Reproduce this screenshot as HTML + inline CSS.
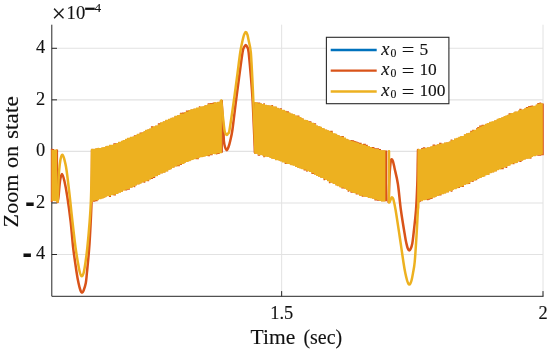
<!DOCTYPE html><html><head><meta charset="utf-8"><title>Zoom on state</title>
<style>html,body{margin:0;padding:0;background:#fff}svg{display:block}text{font-family:"Liberation Serif",serif;fill:#111;stroke:#111;stroke-width:0.12px}text.dj{font-family:"DejaVu Sans",sans-serif}text.ls{font-family:"Liberation Sans",sans-serif}</style></head><body>
<svg width="550" height="352" viewBox="0 0 550 352">
<rect width="550" height="352" fill="#fff"/>
<line x1="51.80" y1="48.30" x2="543.00" y2="48.30" stroke="#e2e2e2" stroke-width="1.1"/>
<line x1="51.80" y1="99.85" x2="543.00" y2="99.85" stroke="#e2e2e2" stroke-width="1.1"/>
<line x1="51.80" y1="151.40" x2="543.00" y2="151.40" stroke="#e2e2e2" stroke-width="1.1"/>
<line x1="51.80" y1="202.95" x2="543.00" y2="202.95" stroke="#e2e2e2" stroke-width="1.1"/>
<line x1="51.80" y1="254.50" x2="543.00" y2="254.50" stroke="#e2e2e2" stroke-width="1.1"/>
<line x1="281.65" y1="24.70" x2="281.65" y2="296.30" stroke="#e2e2e2" stroke-width="1.0"/>
<line x1="543.00" y1="24.70" x2="543.00" y2="296.30" stroke="#e2e2e2" stroke-width="1.0"/>
<path d="M51.80 24.70 V296.30 H543.50" fill="none" stroke="#262626" stroke-width="1.0"/>
<line x1="51.80" y1="48.30" x2="57.00" y2="48.30" stroke="#262626" stroke-width="1.0"/>
<line x1="51.80" y1="99.85" x2="57.00" y2="99.85" stroke="#262626" stroke-width="1.0"/>
<line x1="51.80" y1="151.40" x2="57.00" y2="151.40" stroke="#262626" stroke-width="1.0"/>
<line x1="51.80" y1="202.95" x2="57.00" y2="202.95" stroke="#262626" stroke-width="1.0"/>
<line x1="51.80" y1="254.50" x2="57.00" y2="254.50" stroke="#262626" stroke-width="1.0"/>
<line x1="281.65" y1="296.30" x2="281.65" y2="291.10" stroke="#262626" stroke-width="1.0"/>
<line x1="543.00" y1="296.30" x2="543.00" y2="291.10" stroke="#262626" stroke-width="1.0"/>
<g id="plot"><path d="M50.80 148.84 L52.50 148.84 L52.50 149.03 L54.08 149.03 L54.08 149.88 L56.15 149.88 L56.15 149.61 L58.10 149.61 L58.10 200.81 L56.15 200.81 L56.15 200.98 L54.08 200.98 L54.08 200.50 L52.50 200.50 L52.50 201.96 L50.80 201.96Z M91.30 149.92 L93.00 149.92 L93.00 149.10 L95.39 149.10 L95.39 148.54 L97.66 148.54 L97.66 148.05 L98.96 148.05 L98.96 148.39 L101.38 148.39 L101.38 147.63 L103.52 147.63 L103.52 147.42 L105.20 147.42 L105.20 146.44 L106.45 146.44 L106.45 146.14 L109.04 146.14 L109.04 145.04 L110.99 145.04 L110.99 144.93 L113.34 144.93 L113.34 143.13 L115.95 143.13 L115.95 143.24 L118.29 143.24 L118.29 142.09 L120.97 142.09 L120.97 140.93 L122.80 140.93 L122.80 140.34 L125.28 140.34 L125.28 139.06 L127.19 139.06 L127.19 138.06 L129.89 138.06 L129.89 137.14 L132.50 137.14 L132.50 136.81 L133.85 136.81 L133.85 135.15 L135.27 135.15 L135.27 135.36 L136.82 135.36 L136.82 134.10 L139.56 134.10 L139.56 132.43 L141.46 132.43 L141.46 132.57 L143.66 132.57 L143.66 131.30 L145.34 131.30 L145.34 130.03 L147.35 130.03 L147.35 129.44 L149.17 129.44 L149.17 128.82 L150.93 128.82 L150.93 126.32 L153.07 126.32 L153.07 126.66 L155.20 126.66 L155.20 125.74 L157.85 125.74 L157.85 123.36 L160.14 123.36 L160.14 122.66 L162.83 122.66 L162.83 121.56 L165.40 121.56 L165.40 120.11 L168.18 120.11 L168.18 119.12 L170.46 119.12 L170.46 118.17 L171.92 118.17 L171.92 117.86 L174.50 117.86 L174.50 116.08 L177.24 116.08 L177.24 115.24 L179.89 115.24 L179.89 112.77 L182.00 112.77 L182.00 112.59 L184.34 112.59 L184.34 112.36 L185.88 112.36 L185.88 110.58 L188.41 110.58 L188.41 110.35 L190.53 110.35 L190.53 109.51 L192.18 109.51 L192.18 109.55 L193.48 109.55 L193.48 108.70 L196.05 108.70 L196.05 107.91 L198.83 107.91 L198.83 106.26 L200.17 106.26 L200.17 106.76 L202.66 106.76 L202.66 106.53 L204.51 106.53 L204.51 105.40 L205.95 105.40 L205.95 105.51 L207.62 105.51 L207.62 103.19 L210.05 103.19 L210.05 103.02 L212.65 103.02 L212.65 102.55 L213.92 102.55 L213.92 102.56 L216.10 102.56 L216.10 102.76 L217.38 102.76 L217.38 102.11 L219.73 102.11 L219.73 100.36 L222.90 100.36 L222.90 152.84 L219.73 152.84 L219.73 154.08 L217.38 154.08 L217.38 154.53 L216.10 154.53 L216.10 153.99 L213.92 153.99 L213.92 153.81 L212.65 153.81 L212.65 155.27 L210.05 155.27 L210.05 156.28 L207.62 156.28 L207.62 155.65 L205.95 155.65 L205.95 156.11 L204.51 156.11 L204.51 156.46 L202.66 156.46 L202.66 157.01 L200.17 157.01 L200.17 157.35 L198.83 157.35 L198.83 159.27 L196.05 159.27 L196.05 158.86 L193.48 158.86 L193.48 159.59 L192.18 159.59 L192.18 159.97 L190.53 159.97 L190.53 161.00 L188.41 161.00 L188.41 161.70 L185.88 161.70 L185.88 162.43 L184.34 162.43 L184.34 163.61 L182.00 163.61 L182.00 164.98 L179.89 164.98 L179.89 166.32 L177.24 166.32 L177.24 166.31 L174.50 166.31 L174.50 167.38 L171.92 167.38 L171.92 169.02 L170.46 169.02 L170.46 169.43 L168.18 169.43 L168.18 171.21 L165.40 171.21 L165.40 172.57 L162.83 172.57 L162.83 173.31 L160.14 173.31 L160.14 174.74 L157.85 174.74 L157.85 176.01 L155.20 176.01 L155.20 177.96 L153.07 177.96 L153.07 179.02 L150.93 179.02 L150.93 179.21 L149.17 179.21 L149.17 181.30 L147.35 181.30 L147.35 181.06 L145.34 181.06 L145.34 182.64 L143.66 182.64 L143.66 182.29 L141.46 182.29 L141.46 183.33 L139.56 183.33 L139.56 184.30 L136.82 184.30 L136.82 185.16 L135.27 185.16 L135.27 187.18 L133.85 187.18 L133.85 186.39 L132.50 186.39 L132.50 187.39 L129.89 187.39 L129.89 189.78 L127.19 189.78 L127.19 190.60 L125.28 190.60 L125.28 190.25 L122.80 190.25 L122.80 191.66 L120.97 191.66 L120.97 192.37 L118.29 192.37 L118.29 193.74 L115.95 193.74 L115.95 195.52 L113.34 195.52 L113.34 194.96 L110.99 194.96 L110.99 196.94 L109.04 196.94 L109.04 196.03 L106.45 196.03 L106.45 196.91 L105.20 196.91 L105.20 197.57 L103.52 197.57 L103.52 198.27 L101.38 198.27 L101.38 198.84 L98.96 198.84 L98.96 199.86 L97.66 199.86 L97.66 201.20 L95.39 201.20 L95.39 201.68 L93.00 201.68 L93.00 201.84 L91.30 201.84Z M253.90 102.31 L255.60 102.31 L255.60 102.51 L257.70 102.51 L257.70 102.49 L260.23 102.49 L260.23 103.50 L261.81 103.50 L261.81 104.38 L263.30 104.38 L263.30 103.17 L264.90 103.17 L264.90 105.08 L267.09 105.08 L267.09 105.46 L269.49 105.46 L269.49 105.76 L271.32 105.76 L271.32 104.93 L273.11 104.93 L273.11 106.71 L274.95 106.71 L274.95 106.70 L276.71 106.70 L276.71 108.04 L278.58 108.04 L278.58 108.77 L279.91 108.77 L279.91 108.22 L281.91 108.22 L281.91 110.12 L284.67 110.12 L284.67 110.97 L286.53 110.97 L286.53 111.33 L288.92 111.33 L288.92 112.68 L290.38 112.68 L290.38 113.84 L292.68 113.84 L292.68 114.53 L295.09 114.53 L295.09 115.85 L297.37 115.85 L297.37 115.49 L299.40 115.49 L299.40 117.38 L301.37 117.38 L301.37 118.47 L303.60 118.47 L303.60 119.99 L306.24 119.99 L306.24 120.33 L307.68 120.33 L307.68 121.05 L309.03 121.05 L309.03 121.26 L311.43 121.26 L311.43 123.13 L314.09 123.13 L314.09 123.13 L316.12 123.13 L316.12 125.75 L318.03 125.75 L318.03 126.49 L320.38 126.49 L320.38 127.16 L321.88 127.16 L321.88 128.25 L323.51 128.25 L323.51 128.79 L325.03 128.79 L325.03 129.69 L327.16 129.69 L327.16 130.49 L328.87 130.49 L328.87 130.97 L330.44 130.97 L330.44 130.87 L332.74 130.87 L332.74 133.63 L335.47 133.63 L335.47 133.95 L337.14 133.95 L337.14 135.34 L339.47 135.34 L339.47 136.46 L341.33 136.46 L341.33 135.93 L343.90 135.93 L343.90 137.90 L346.03 137.90 L346.03 139.03 L347.66 139.03 L347.66 139.68 L349.21 139.68 L349.21 140.67 L350.45 140.67 L350.45 139.93 L352.41 139.93 L352.41 140.37 L354.23 140.37 L354.23 140.88 L355.70 140.88 L355.70 141.38 L357.48 141.38 L357.48 142.21 L359.19 142.21 L359.19 142.81 L361.63 142.81 L361.63 144.58 L363.06 144.58 L363.06 143.85 L365.85 143.85 L365.85 144.83 L367.82 144.83 L367.82 146.58 L369.97 146.58 L369.97 147.26 L371.92 147.26 L371.92 147.11 L374.46 147.11 L374.46 148.21 L376.97 148.21 L376.97 148.17 L379.06 148.17 L379.06 149.06 L381.03 149.06 L381.03 150.50 L383.39 150.50 L383.39 150.58 L387.30 150.58 L387.30 201.30 L383.39 201.30 L383.39 201.19 L381.03 201.19 L381.03 200.75 L379.06 200.75 L379.06 200.77 L376.97 200.77 L376.97 200.53 L374.46 200.53 L374.46 198.53 L371.92 198.53 L371.92 197.88 L369.97 197.88 L369.97 197.81 L367.82 197.81 L367.82 196.73 L365.85 196.73 L365.85 196.41 L363.06 196.41 L363.06 196.65 L361.63 196.65 L361.63 195.58 L359.19 195.58 L359.19 194.21 L357.48 194.21 L357.48 194.57 L355.70 194.57 L355.70 192.87 L354.23 192.87 L354.23 192.63 L352.41 192.63 L352.41 192.80 L350.45 192.80 L350.45 191.06 L349.21 191.06 L349.21 191.64 L347.66 191.64 L347.66 189.51 L346.03 189.51 L346.03 188.48 L343.90 188.48 L343.90 188.56 L341.33 188.56 L341.33 187.08 L339.47 187.08 L339.47 186.02 L337.14 186.02 L337.14 185.20 L335.47 185.20 L335.47 183.74 L332.74 183.74 L332.74 182.51 L330.44 182.51 L330.44 183.21 L328.87 183.21 L328.87 181.01 L327.16 181.01 L327.16 179.56 L325.03 179.56 L325.03 180.16 L323.51 180.16 L323.51 177.75 L321.88 177.75 L321.88 177.65 L320.38 177.65 L320.38 176.45 L318.03 176.45 L318.03 175.59 L316.12 175.59 L316.12 174.42 L314.09 174.42 L314.09 174.12 L311.43 174.12 L311.43 171.70 L309.03 171.70 L309.03 170.84 L307.68 170.84 L307.68 171.79 L306.24 171.79 L306.24 170.50 L303.60 170.50 L303.60 168.84 L301.37 168.84 L301.37 168.27 L299.40 168.27 L299.40 167.64 L297.37 167.64 L297.37 166.76 L295.09 166.76 L295.09 165.35 L292.68 165.35 L292.68 164.99 L290.38 164.99 L290.38 164.05 L288.92 164.05 L288.92 163.63 L286.53 163.63 L286.53 164.01 L284.67 164.01 L284.67 162.09 L281.91 162.09 L281.91 161.12 L279.91 161.12 L279.91 160.38 L278.58 160.38 L278.58 159.91 L276.71 159.91 L276.71 159.90 L274.95 159.90 L274.95 158.65 L273.11 158.65 L273.11 158.45 L271.32 158.45 L271.32 157.62 L269.49 157.62 L269.49 156.79 L267.09 156.79 L267.09 156.33 L264.90 156.33 L264.90 157.26 L263.30 157.26 L263.30 155.24 L261.81 155.24 L261.81 154.71 L260.23 154.71 L260.23 155.79 L257.70 155.79 L257.70 153.41 L255.60 153.41 L255.60 153.35 L253.90 153.35Z M418.10 150.35 L419.80 150.35 L419.80 149.64 L421.14 149.64 L421.14 147.91 L422.81 147.91 L422.81 147.33 L425.37 147.33 L425.37 148.33 L426.75 148.33 L426.75 147.62 L428.58 147.62 L428.58 147.50 L430.31 147.50 L430.31 146.65 L432.60 146.65 L432.60 144.59 L435.29 144.59 L435.29 145.45 L436.76 145.45 L436.76 144.48 L439.15 144.48 L439.15 142.86 L441.52 142.86 L441.52 143.75 L444.06 143.75 L444.06 142.85 L446.15 142.85 L446.15 142.47 L448.82 142.47 L448.82 141.71 L450.60 141.71 L450.60 139.43 L452.47 139.43 L452.47 140.21 L454.03 140.21 L454.03 138.79 L456.48 138.79 L456.48 138.11 L458.45 138.11 L458.45 137.14 L460.08 137.14 L460.08 136.53 L461.55 136.53 L461.55 136.29 L463.91 136.29 L463.91 134.60 L466.07 134.60 L466.07 133.52 L468.41 133.52 L468.41 132.93 L470.23 132.93 L470.23 130.77 L472.21 130.77 L472.21 129.69 L473.66 129.69 L473.66 130.09 L475.99 130.09 L475.99 128.23 L477.23 128.23 L477.23 126.97 L479.18 126.97 L479.18 125.60 L481.59 125.60 L481.59 124.71 L483.87 124.71 L483.87 125.13 L485.23 125.13 L485.23 124.08 L486.81 124.08 L486.81 123.38 L489.36 123.38 L489.36 122.07 L491.59 122.07 L491.59 121.66 L494.19 121.66 L494.19 120.48 L496.79 120.48 L496.79 118.98 L498.71 118.98 L498.71 118.32 L501.34 118.32 L501.34 117.47 L503.72 117.47 L503.72 116.19 L505.45 116.19 L505.45 115.87 L507.24 115.87 L507.24 114.99 L508.56 114.99 L508.56 113.29 L510.40 113.29 L510.40 113.18 L513.13 113.18 L513.13 112.68 L514.49 112.68 L514.49 111.87 L516.60 111.87 L516.60 111.76 L517.98 111.76 L517.98 110.74 L519.31 110.74 L519.31 108.82 L521.55 108.82 L521.55 109.70 L523.13 109.70 L523.13 109.46 L524.41 109.46 L524.41 108.38 L525.86 108.38 L525.86 107.01 L528.09 107.01 L528.09 105.93 L530.22 105.93 L530.22 105.81 L531.44 105.81 L531.44 105.41 L533.01 105.41 L533.01 105.93 L535.76 105.93 L535.76 104.79 L537.31 104.79 L537.31 102.96 L539.41 102.96 L539.41 102.39 L541.28 102.39 L541.28 103.50 L543.80 103.50 L543.80 155.30 L541.28 155.30 L541.28 155.76 L539.41 155.76 L539.41 155.73 L537.31 155.73 L537.31 155.17 L535.76 155.17 L535.76 155.85 L533.01 155.85 L533.01 156.70 L531.44 156.70 L531.44 158.72 L530.22 158.72 L530.22 158.36 L528.09 158.36 L528.09 158.38 L525.86 158.38 L525.86 159.19 L524.41 159.19 L524.41 159.44 L523.13 159.44 L523.13 160.54 L521.55 160.54 L521.55 161.92 L519.31 161.92 L519.31 161.29 L517.98 161.29 L517.98 162.44 L516.60 162.44 L516.60 162.93 L514.49 162.93 L514.49 164.14 L513.13 164.14 L513.13 164.01 L510.40 164.01 L510.40 165.35 L508.56 165.35 L508.56 165.74 L507.24 165.74 L507.24 167.90 L505.45 167.90 L505.45 167.18 L503.72 167.18 L503.72 169.18 L501.34 169.18 L501.34 169.10 L498.71 169.10 L498.71 169.92 L496.79 169.92 L496.79 171.27 L494.19 171.27 L494.19 172.30 L491.59 172.30 L491.59 172.99 L489.36 172.99 L489.36 174.72 L486.81 174.72 L486.81 175.05 L485.23 175.05 L485.23 176.14 L483.87 176.14 L483.87 176.60 L481.59 176.60 L481.59 177.67 L479.18 177.67 L479.18 178.65 L477.23 178.65 L477.23 180.25 L475.99 180.25 L475.99 180.25 L473.66 180.25 L473.66 181.97 L472.21 181.97 L472.21 181.43 L470.23 181.43 L470.23 184.08 L468.41 184.08 L468.41 183.87 L466.07 183.87 L466.07 184.52 L463.91 184.52 L463.91 187.00 L461.55 187.00 L461.55 186.59 L460.08 186.59 L460.08 188.03 L458.45 188.03 L458.45 188.03 L456.48 188.03 L456.48 188.99 L454.03 188.99 L454.03 189.43 L452.47 189.43 L452.47 191.80 L450.60 191.80 L450.60 190.94 L448.82 190.94 L448.82 192.24 L446.15 192.24 L446.15 193.22 L444.06 193.22 L444.06 193.97 L441.52 193.97 L441.52 195.57 L439.15 195.57 L439.15 195.59 L436.76 195.59 L436.76 196.43 L435.29 196.43 L435.29 197.17 L432.60 197.17 L432.60 198.98 L430.31 198.98 L430.31 199.64 L428.58 199.64 L428.58 200.13 L426.75 200.13 L426.75 199.45 L425.37 199.45 L425.37 199.83 L422.81 199.83 L422.81 200.83 L421.14 200.83 L421.14 201.64 L419.80 201.64 L419.80 202.56 L418.10 202.56Z" fill="#D95319"/>
<path d="M57.60 202.00 C57.77 201.00 58.20 199.50 58.60 196.00 C59.00 192.50 59.43 184.67 60.00 181.00 C60.57 177.33 61.27 174.00 62.00 174.00 C62.73 174.00 63.53 177.33 64.40 181.00 C65.27 184.67 66.15 189.17 67.20 196.00 C68.25 202.83 69.70 213.33 70.70 222.00 C71.70 230.67 72.20 239.50 73.20 248.00 C74.20 256.50 75.82 267.17 76.70 273.00 C77.58 278.83 77.87 280.08 78.50 283.00 C79.13 285.92 79.92 288.87 80.50 290.50 C81.08 292.13 81.48 292.80 82.00 292.80 C82.52 292.80 82.97 292.13 83.60 290.50 C84.23 288.87 85.25 285.92 85.80 283.00 C86.35 280.08 86.33 278.83 86.90 273.00 C87.47 267.17 88.57 256.50 89.20 248.00 C89.83 239.50 90.32 229.50 90.70 222.00 C91.08 214.50 91.30 210.00 91.50 203.00 C91.70 196.00 91.80 188.83 91.90 180.00 C92.00 171.17 92.07 155.00 92.10 150.00" fill="none" stroke="#D95319" stroke-width="2.5" stroke-linejoin="round" stroke-linecap="round"/>
<path d="M221.60 101.00 C221.90 105.83 223.02 123.33 223.40 130.00 C223.78 136.67 223.63 138.17 223.90 141.00 C224.17 143.83 224.53 145.47 225.00 147.00 C225.47 148.53 226.12 150.15 226.70 150.15 C227.28 150.15 227.92 148.53 228.50 147.00 C229.08 145.47 229.55 143.83 230.20 141.00 C230.85 138.17 231.50 136.17 232.40 130.00 C233.30 123.83 234.50 112.67 235.60 104.00 C236.70 95.33 237.83 86.67 239.00 78.00 C240.17 69.33 241.72 57.20 242.60 52.00 C243.48 46.80 243.78 47.97 244.30 46.80 C244.82 45.63 245.23 45.00 245.70 45.00 C246.17 45.00 246.62 45.63 247.10 46.80 C247.58 47.97 247.95 46.80 248.60 52.00 C249.25 57.20 250.33 70.00 251.00 78.00 C251.67 86.00 252.13 92.00 252.60 100.00 C253.07 108.00 253.40 117.25 253.80 126.00 C254.20 134.75 254.80 148.08 255.00 152.50" fill="none" stroke="#D95319" stroke-width="2.5" stroke-linejoin="round" stroke-linecap="round"/>
<path d="M388.60 202.00 C388.77 197.50 389.25 181.75 389.60 175.00 C389.95 168.25 390.33 164.13 390.70 161.50 C391.07 158.87 391.43 159.28 391.80 159.20 C392.17 159.12 392.45 159.53 392.90 161.00 C393.35 162.47 393.67 164.17 394.50 168.00 C395.33 171.83 396.83 177.00 397.90 184.00 C398.97 191.00 399.72 201.33 400.90 210.00 C402.08 218.67 404.08 230.43 405.00 236.00 C405.92 241.57 405.93 241.32 406.40 243.40 C406.87 245.48 407.32 247.30 407.80 248.50 C408.28 249.70 408.80 250.60 409.30 250.60 C409.80 250.60 410.30 249.70 410.80 248.50 C411.30 247.30 411.88 245.48 412.30 243.40 C412.72 241.32 412.68 241.57 413.30 236.00 C413.92 230.43 415.33 218.67 416.00 210.00 C416.67 201.33 417.00 192.33 417.30 184.00 C417.60 175.67 417.68 165.67 417.80 160.00 C417.92 154.33 417.97 151.67 418.00 150.00" fill="none" stroke="#D95319" stroke-width="2.5" stroke-linejoin="round" stroke-linecap="round"/>
<path d="M51.50 149.69 L52.50 149.69 L52.50 149.88 L54.08 149.88 L54.08 149.58 L56.15 149.58 L56.15 149.31 L57.10 149.31 L57.10 201.11 L56.15 201.11 L56.15 201.28 L54.08 201.28 L54.08 200.80 L52.50 200.80 L52.50 201.11 L51.50 201.11Z M92.00 149.62 L93.00 149.62 L93.00 148.80 L95.39 148.80 L95.39 148.24 L97.66 148.24 L97.66 147.75 L98.96 147.75 L98.96 148.09 L101.38 148.09 L101.38 147.33 L103.52 147.33 L103.52 147.12 L105.20 147.12 L105.20 146.14 L106.45 146.14 L106.45 145.84 L109.04 145.84 L109.04 144.74 L110.99 144.74 L110.99 144.63 L113.34 144.63 L113.34 143.98 L115.95 143.98 L115.95 142.94 L118.29 142.94 L118.29 141.79 L120.97 141.79 L120.97 140.63 L122.80 140.63 L122.80 140.04 L125.28 140.04 L125.28 138.76 L127.19 138.76 L127.19 137.76 L129.89 137.76 L129.89 136.84 L132.50 136.84 L132.50 136.51 L133.85 136.51 L133.85 136.00 L135.27 136.00 L135.27 135.06 L136.82 135.06 L136.82 133.80 L139.56 133.80 L139.56 133.28 L141.46 133.28 L141.46 132.27 L143.66 132.27 L143.66 131.00 L145.34 131.00 L145.34 129.73 L147.35 129.73 L147.35 129.14 L149.17 129.14 L149.17 128.52 L150.93 128.52 L150.93 127.17 L153.07 127.17 L153.07 126.36 L155.20 126.36 L155.20 125.44 L157.85 125.44 L157.85 124.21 L160.14 124.21 L160.14 122.36 L162.83 122.36 L162.83 121.26 L165.40 121.26 L165.40 119.81 L168.18 119.81 L168.18 118.82 L170.46 118.82 L170.46 117.87 L171.92 117.87 L171.92 117.56 L174.50 117.56 L174.50 115.78 L177.24 115.78 L177.24 114.94 L179.89 114.94 L179.89 113.62 L182.00 113.62 L182.00 113.44 L184.34 113.44 L184.34 112.06 L185.88 112.06 L185.88 111.43 L188.41 111.43 L188.41 110.05 L190.53 110.05 L190.53 109.21 L192.18 109.21 L192.18 109.25 L193.48 109.25 L193.48 108.40 L196.05 108.40 L196.05 107.61 L198.83 107.61 L198.83 107.11 L200.17 107.11 L200.17 106.46 L202.66 106.46 L202.66 106.23 L204.51 106.23 L204.51 105.10 L205.95 105.10 L205.95 105.21 L207.62 105.21 L207.62 104.04 L210.05 104.04 L210.05 103.87 L212.65 103.87 L212.65 103.40 L213.92 103.40 L213.92 102.26 L216.10 102.26 L216.10 102.46 L217.38 102.46 L217.38 101.81 L219.73 101.81 L219.73 101.21 L221.90 101.21 L221.90 153.14 L219.73 153.14 L219.73 153.23 L217.38 153.23 L217.38 153.68 L216.10 153.68 L216.10 154.29 L213.92 154.29 L213.92 154.11 L212.65 154.11 L212.65 154.42 L210.05 154.42 L210.05 155.43 L207.62 155.43 L207.62 155.95 L205.95 155.95 L205.95 156.41 L204.51 156.41 L204.51 156.76 L202.66 156.76 L202.66 157.31 L200.17 157.31 L200.17 157.65 L198.83 157.65 L198.83 158.42 L196.05 158.42 L196.05 159.16 L193.48 159.16 L193.48 159.89 L192.18 159.89 L192.18 160.27 L190.53 160.27 L190.53 161.30 L188.41 161.30 L188.41 162.00 L185.88 162.00 L185.88 162.73 L184.34 162.73 L184.34 163.91 L182.00 163.91 L182.00 164.13 L179.89 164.13 L179.89 165.47 L177.24 165.47 L177.24 166.61 L174.50 166.61 L174.50 167.68 L171.92 167.68 L171.92 169.32 L170.46 169.32 L170.46 169.73 L168.18 169.73 L168.18 171.51 L165.40 171.51 L165.40 172.87 L162.83 172.87 L162.83 173.61 L160.14 173.61 L160.14 175.04 L157.85 175.04 L157.85 176.31 L155.20 176.31 L155.20 177.11 L153.07 177.11 L153.07 178.17 L150.93 178.17 L150.93 179.51 L149.17 179.51 L149.17 180.45 L147.35 180.45 L147.35 181.36 L145.34 181.36 L145.34 181.79 L143.66 181.79 L143.66 182.59 L141.46 182.59 L141.46 183.63 L139.56 183.63 L139.56 184.60 L136.82 184.60 L136.82 185.46 L135.27 185.46 L135.27 186.33 L133.85 186.33 L133.85 186.69 L132.50 186.69 L132.50 187.69 L129.89 187.69 L129.89 188.93 L127.19 188.93 L127.19 189.75 L125.28 189.75 L125.28 190.55 L122.80 190.55 L122.80 191.96 L120.97 191.96 L120.97 192.67 L118.29 192.67 L118.29 194.04 L115.95 194.04 L115.95 194.67 L113.34 194.67 L113.34 195.26 L110.99 195.26 L110.99 196.09 L109.04 196.09 L109.04 196.33 L106.45 196.33 L106.45 197.21 L105.20 197.21 L105.20 197.87 L103.52 197.87 L103.52 198.57 L101.38 198.57 L101.38 199.14 L98.96 199.14 L98.96 200.16 L97.66 200.16 L97.66 200.35 L95.39 200.35 L95.39 200.83 L93.00 200.83 L93.00 202.14 L92.00 202.14Z M254.60 102.01 L255.60 102.01 L255.60 102.21 L257.70 102.21 L257.70 103.34 L260.23 103.34 L260.23 103.20 L261.81 103.20 L261.81 104.08 L263.30 104.08 L263.30 104.02 L264.90 104.02 L264.90 104.78 L267.09 104.78 L267.09 105.16 L269.49 105.16 L269.49 105.46 L271.32 105.46 L271.32 105.78 L273.11 105.78 L273.11 106.41 L274.95 106.41 L274.95 106.40 L276.71 106.40 L276.71 107.74 L278.58 107.74 L278.58 108.47 L279.91 108.47 L279.91 109.07 L281.91 109.07 L281.91 109.82 L284.67 109.82 L284.67 110.67 L286.53 110.67 L286.53 112.18 L288.92 112.18 L288.92 112.38 L290.38 112.38 L290.38 113.54 L292.68 113.54 L292.68 114.23 L295.09 114.23 L295.09 115.55 L297.37 115.55 L297.37 116.34 L299.40 116.34 L299.40 117.08 L301.37 117.08 L301.37 118.17 L303.60 118.17 L303.60 119.69 L306.24 119.69 L306.24 120.03 L307.68 120.03 L307.68 120.75 L309.03 120.75 L309.03 122.11 L311.43 122.11 L311.43 122.83 L314.09 122.83 L314.09 123.98 L316.12 123.98 L316.12 125.45 L318.03 125.45 L318.03 126.19 L320.38 126.19 L320.38 126.86 L321.88 126.86 L321.88 127.95 L323.51 127.95 L323.51 128.49 L325.03 128.49 L325.03 129.39 L327.16 129.39 L327.16 130.19 L328.87 130.19 L328.87 130.67 L330.44 130.67 L330.44 131.72 L332.74 131.72 L332.74 133.33 L335.47 133.33 L335.47 133.65 L337.14 133.65 L337.14 135.04 L339.47 135.04 L339.47 136.16 L341.33 136.16 L341.33 136.78 L343.90 136.78 L343.90 137.60 L346.03 137.60 L346.03 138.73 L347.66 138.73 L347.66 139.38 L349.21 139.38 L349.21 140.37 L350.45 140.37 L350.45 140.78 L352.41 140.78 L352.41 141.22 L354.23 141.22 L354.23 141.73 L355.70 141.73 L355.70 142.23 L357.48 142.23 L357.48 143.06 L359.19 143.06 L359.19 143.66 L361.63 143.66 L361.63 144.28 L363.06 144.28 L363.06 144.70 L365.85 144.70 L365.85 145.68 L367.82 145.68 L367.82 146.28 L369.97 146.28 L369.97 146.96 L371.92 146.96 L371.92 147.96 L374.46 147.96 L374.46 149.06 L376.97 149.06 L376.97 149.02 L379.06 149.02 L379.06 149.91 L381.03 149.91 L381.03 150.20 L383.39 150.20 L383.39 150.28 L385.40 150.28 L385.40 201.60 L383.39 201.60 L383.39 201.49 L381.03 201.49 L381.03 201.05 L379.06 201.05 L379.06 199.92 L376.97 199.92 L376.97 199.68 L374.46 199.68 L374.46 198.83 L371.92 198.83 L371.92 198.18 L369.97 198.18 L369.97 198.11 L367.82 198.11 L367.82 197.03 L365.85 197.03 L365.85 196.71 L363.06 196.71 L363.06 195.80 L361.63 195.80 L361.63 195.88 L359.19 195.88 L359.19 194.51 L357.48 194.51 L357.48 193.72 L355.70 193.72 L355.70 193.17 L354.23 193.17 L354.23 192.93 L352.41 192.93 L352.41 191.95 L350.45 191.95 L350.45 191.36 L349.21 191.36 L349.21 190.79 L347.66 190.79 L347.66 189.81 L346.03 189.81 L346.03 188.78 L343.90 188.78 L343.90 187.71 L341.33 187.71 L341.33 187.38 L339.47 187.38 L339.47 186.32 L337.14 186.32 L337.14 185.50 L335.47 185.50 L335.47 184.04 L332.74 184.04 L332.74 182.81 L330.44 182.81 L330.44 182.36 L328.87 182.36 L328.87 181.31 L327.16 181.31 L327.16 179.86 L325.03 179.86 L325.03 179.31 L323.51 179.31 L323.51 178.05 L321.88 178.05 L321.88 177.95 L320.38 177.95 L320.38 176.75 L318.03 176.75 L318.03 175.89 L316.12 175.89 L316.12 174.72 L314.09 174.72 L314.09 173.27 L311.43 173.27 L311.43 172.00 L309.03 172.00 L309.03 171.14 L307.68 171.14 L307.68 170.94 L306.24 170.94 L306.24 169.65 L303.60 169.65 L303.60 169.14 L301.37 169.14 L301.37 168.57 L299.40 168.57 L299.40 167.94 L297.37 167.94 L297.37 167.06 L295.09 167.06 L295.09 165.65 L292.68 165.65 L292.68 165.29 L290.38 165.29 L290.38 164.35 L288.92 164.35 L288.92 163.93 L286.53 163.93 L286.53 163.16 L284.67 163.16 L284.67 162.39 L281.91 162.39 L281.91 161.42 L279.91 161.42 L279.91 160.68 L278.58 160.68 L278.58 160.21 L276.71 160.21 L276.71 160.20 L274.95 160.20 L274.95 158.95 L273.11 158.95 L273.11 158.75 L271.32 158.75 L271.32 157.92 L269.49 157.92 L269.49 157.09 L267.09 157.09 L267.09 156.63 L264.90 156.63 L264.90 156.41 L263.30 156.41 L263.30 155.54 L261.81 155.54 L261.81 155.01 L260.23 155.01 L260.23 154.94 L257.70 154.94 L257.70 153.71 L255.60 153.71 L255.60 153.65 L254.60 153.65Z M418.80 150.05 L419.80 150.05 L419.80 149.34 L421.14 149.34 L421.14 148.76 L422.81 148.76 L422.81 148.18 L425.37 148.18 L425.37 148.03 L426.75 148.03 L426.75 147.32 L428.58 147.32 L428.58 147.20 L430.31 147.20 L430.31 146.35 L432.60 146.35 L432.60 145.44 L435.29 145.44 L435.29 145.15 L436.76 145.15 L436.76 144.18 L439.15 144.18 L439.15 143.71 L441.52 143.71 L441.52 143.45 L444.06 143.45 L444.06 142.55 L446.15 142.55 L446.15 142.17 L448.82 142.17 L448.82 141.41 L450.60 141.41 L450.60 140.28 L452.47 140.28 L452.47 139.91 L454.03 139.91 L454.03 138.49 L456.48 138.49 L456.48 137.81 L458.45 137.81 L458.45 136.84 L460.08 136.84 L460.08 136.23 L461.55 136.23 L461.55 135.99 L463.91 135.99 L463.91 134.30 L466.07 134.30 L466.07 133.22 L468.41 133.22 L468.41 132.63 L470.23 132.63 L470.23 131.62 L472.21 131.62 L472.21 130.54 L473.66 130.54 L473.66 129.79 L475.99 129.79 L475.99 129.08 L477.23 129.08 L477.23 127.82 L479.18 127.82 L479.18 126.45 L481.59 126.45 L481.59 125.56 L483.87 125.56 L483.87 124.83 L485.23 124.83 L485.23 123.78 L486.81 123.78 L486.81 123.08 L489.36 123.08 L489.36 121.77 L491.59 121.77 L491.59 121.36 L494.19 121.36 L494.19 120.18 L496.79 120.18 L496.79 118.68 L498.71 118.68 L498.71 118.02 L501.34 118.02 L501.34 117.17 L503.72 117.17 L503.72 115.89 L505.45 115.89 L505.45 115.57 L507.24 115.57 L507.24 114.69 L508.56 114.69 L508.56 114.14 L510.40 114.14 L510.40 112.88 L513.13 112.88 L513.13 112.38 L514.49 112.38 L514.49 111.57 L516.60 111.57 L516.60 111.46 L517.98 111.46 L517.98 110.44 L519.31 110.44 L519.31 109.67 L521.55 109.67 L521.55 109.40 L523.13 109.40 L523.13 109.16 L524.41 109.16 L524.41 108.08 L525.86 108.08 L525.86 107.86 L528.09 107.86 L528.09 106.78 L530.22 106.78 L530.22 106.66 L531.44 106.66 L531.44 106.26 L533.01 106.26 L533.01 105.63 L535.76 105.63 L535.76 104.49 L537.31 104.49 L537.31 103.81 L539.41 103.81 L539.41 103.24 L541.28 103.24 L541.28 103.20 L542.80 103.20 L542.80 154.45 L541.28 154.45 L541.28 154.91 L539.41 154.91 L539.41 154.88 L537.31 154.88 L537.31 155.47 L535.76 155.47 L535.76 156.15 L533.01 156.15 L533.01 157.00 L531.44 157.00 L531.44 157.87 L530.22 157.87 L530.22 158.66 L528.09 158.66 L528.09 158.68 L525.86 158.68 L525.86 159.49 L524.41 159.49 L524.41 159.74 L523.13 159.74 L523.13 160.84 L521.55 160.84 L521.55 161.07 L519.31 161.07 L519.31 161.59 L517.98 161.59 L517.98 162.74 L516.60 162.74 L516.60 163.23 L514.49 163.23 L514.49 163.29 L513.13 163.29 L513.13 164.31 L510.40 164.31 L510.40 165.65 L508.56 165.65 L508.56 166.04 L507.24 166.04 L507.24 167.05 L505.45 167.05 L505.45 167.48 L503.72 167.48 L503.72 168.33 L501.34 168.33 L501.34 169.40 L498.71 169.40 L498.71 170.22 L496.79 170.22 L496.79 171.57 L494.19 171.57 L494.19 172.60 L491.59 172.60 L491.59 173.29 L489.36 173.29 L489.36 175.02 L486.81 175.02 L486.81 175.35 L485.23 175.35 L485.23 176.44 L483.87 176.44 L483.87 176.90 L481.59 176.90 L481.59 177.97 L479.18 177.97 L479.18 178.95 L477.23 178.95 L477.23 179.40 L475.99 179.40 L475.99 180.55 L473.66 180.55 L473.66 181.12 L472.21 181.12 L472.21 181.73 L470.23 181.73 L470.23 183.23 L468.41 183.23 L468.41 184.17 L466.07 184.17 L466.07 184.82 L463.91 184.82 L463.91 186.15 L461.55 186.15 L461.55 186.89 L460.08 186.89 L460.08 187.18 L458.45 187.18 L458.45 188.33 L456.48 188.33 L456.48 189.29 L454.03 189.29 L454.03 189.73 L452.47 189.73 L452.47 190.95 L450.60 190.95 L450.60 191.24 L448.82 191.24 L448.82 192.54 L446.15 192.54 L446.15 193.52 L444.06 193.52 L444.06 194.27 L441.52 194.27 L441.52 194.72 L439.15 194.72 L439.15 195.89 L436.76 195.89 L436.76 196.73 L435.29 196.73 L435.29 197.47 L432.60 197.47 L432.60 198.13 L430.31 198.13 L430.31 198.79 L428.58 198.79 L428.58 199.28 L426.75 199.28 L426.75 199.75 L425.37 199.75 L425.37 200.13 L422.81 200.13 L422.81 201.13 L421.14 201.13 L421.14 200.79 L419.80 200.79 L419.80 201.71 L418.80 201.71Z" fill="#EDB120"/>
<path d="M57.70 201.50 C57.80 198.75 58.07 190.08 58.30 185.00 C58.53 179.92 58.75 175.17 59.10 171.00 C59.45 166.83 59.92 162.68 60.40 160.00 C60.88 157.32 61.45 155.37 62.00 154.90 C62.55 154.43 63.18 155.93 63.70 157.20 C64.22 158.47 64.62 160.28 65.10 162.50 C65.58 164.72 65.83 164.92 66.60 170.50 C67.37 176.08 68.72 187.42 69.70 196.00 C70.68 204.58 71.52 213.33 72.50 222.00 C73.48 230.67 74.68 241.17 75.60 248.00 C76.52 254.83 77.27 258.83 78.00 263.00 C78.73 267.17 79.37 270.78 80.00 273.00 C80.63 275.22 81.20 276.30 81.80 276.30 C82.40 276.30 83.00 275.22 83.60 273.00 C84.20 270.78 84.78 267.17 85.40 263.00 C86.02 258.83 86.60 254.83 87.30 248.00 C88.00 241.17 89.02 229.50 89.60 222.00 C90.18 214.50 90.47 210.83 90.80 203.00 C91.13 195.17 91.40 183.83 91.60 175.00 C91.80 166.17 91.93 154.17 92.00 150.00" fill="none" stroke="#EDB120" stroke-width="2.5" stroke-linejoin="round" stroke-linecap="round"/>
<path d="M221.30 100.50 C221.35 101.08 221.10 99.25 221.60 104.00 C222.10 108.75 223.65 124.12 224.30 129.00 C224.95 133.88 225.07 132.29 225.50 133.30 C225.93 134.31 226.45 135.05 226.90 135.05 C227.35 135.05 227.77 134.14 228.20 133.30 C228.63 132.46 228.63 134.88 229.50 130.00 C230.37 125.12 232.17 112.67 233.40 104.00 C234.63 95.33 235.75 86.67 236.90 78.00 C238.05 69.33 239.37 58.20 240.30 52.00 C241.23 45.80 241.87 43.70 242.50 40.80 C243.13 37.90 243.55 36.06 244.10 34.60 C244.65 33.14 245.25 32.05 245.80 32.05 C246.35 32.05 246.92 33.14 247.40 34.60 C247.88 36.06 248.13 37.90 248.70 40.80 C249.27 43.70 250.20 45.80 250.80 52.00 C251.40 58.20 251.88 70.00 252.30 78.00 C252.72 86.00 252.95 92.00 253.30 100.00 C253.65 108.00 254.03 117.25 254.40 126.00 C254.77 134.75 255.32 148.08 255.50 152.50" fill="none" stroke="#EDB120" stroke-width="2.5" stroke-linejoin="round" stroke-linecap="round"/>
<path d="M388.95 202.3 L389.0 151.2" fill="none" stroke="#EDB120" stroke-width="2.5" stroke-linejoin="round" stroke-linecap="round"/>
<path d="M389.50 202.30 C389.63 202.00 390.02 201.18 390.30 200.50 C390.58 199.82 390.88 198.72 391.20 198.20 C391.52 197.68 391.85 197.27 392.20 197.40 C392.55 197.53 392.73 196.90 393.30 199.00 C393.87 201.10 394.55 203.83 395.60 210.00 C396.65 216.17 398.30 227.33 399.60 236.00 C400.90 244.67 402.45 255.82 403.40 262.00 C404.35 268.18 404.68 270.02 405.30 273.10 C405.92 276.18 406.60 278.75 407.10 280.50 C407.60 282.25 407.93 282.93 408.30 283.60 C408.67 284.27 408.97 284.50 409.30 284.50 C409.63 284.50 409.93 284.27 410.30 283.60 C410.67 282.93 411.05 282.25 411.50 280.50 C411.95 278.75 412.47 276.18 413.00 273.10 C413.53 270.02 414.12 268.18 414.70 262.00 C415.28 255.82 415.97 244.67 416.50 236.00 C417.03 227.33 417.60 215.50 417.90 210.00 C418.20 204.50 418.17 213.00 418.30 203.00 C418.43 193.00 418.63 158.83 418.70 150.00" fill="none" stroke="#EDB120" stroke-width="2.5" stroke-linejoin="round" stroke-linecap="round"/></g>
<text x="45.2" y="53.0" font-size="18.4" text-anchor="end">4</text>
<text x="45.2" y="104.5" font-size="18.4" text-anchor="end">2</text>
<text x="45.2" y="156.1" font-size="18.4" text-anchor="end">0</text>
<text x="45.2" y="207.6" font-size="18.4" text-anchor="end">2</text>
<text x="30.0" y="210.5" font-size="24" font-weight="bold" text-anchor="middle" class="dj">-</text>
<text x="45.2" y="259.2" font-size="18.4" text-anchor="end">4</text>
<text x="27.3" y="262.1" font-size="24" font-weight="bold" text-anchor="middle" class="dj">-</text>
<text x="281.8" y="319" font-size="18.4" text-anchor="middle">1.5</text>
<text x="543" y="319" font-size="18.4" text-anchor="middle">2</text>
<text x="51.8" y="21.8" font-size="25">×</text>
<text x="66.6" y="19.2" font-size="19.2" textLength="18.6" lengthAdjust="spacingAndGlyphs">10</text>
<text x="89.9" y="15.3" font-size="19" font-weight="bold" text-anchor="middle" class="ls">−</text>
<text x="94.5" y="12.4" font-size="13.3">4</text>
<text x="250.6" y="343.8" font-size="20" textLength="44.6" lengthAdjust="spacingAndGlyphs">Time</text>
<text x="303.4" y="343.8" font-size="20" textLength="38.8" lengthAdjust="spacingAndGlyphs">(sec)</text>
<text transform="translate(17.6 227.40) rotate(-90)" font-size="20" textLength="53.0" lengthAdjust="spacingAndGlyphs">Zoom</text>
<text transform="translate(17.6 167.90) rotate(-90)" font-size="20" textLength="22.0" lengthAdjust="spacingAndGlyphs">on</text>
<text transform="translate(17.6 139.00) rotate(-90)" font-size="20" textLength="42.8" lengthAdjust="spacingAndGlyphs">state</text>
<rect x="326.4" y="37.3" width="122.5" height="66.4" fill="#fff" stroke="#2a2a2a" stroke-width="1.1"/>
<line x1="330.7" y1="49.95" x2="376.7" y2="49.95" stroke="#0072BD" stroke-width="2.4"/>
<text x="381.2" y="54.6" font-size="18.6" font-style="italic">x</text>
<text x="390.5" y="56.8" font-size="11.8">0</text>
<text x="401.7" y="56.3" font-size="18.4" textLength="12.6" lengthAdjust="spacingAndGlyphs">=</text>
<text x="419.4" y="54.6" font-size="17.4">5</text>
<line x1="330.7" y1="70.60" x2="376.7" y2="70.60" stroke="#D95319" stroke-width="2.4"/>
<text x="381.2" y="75.2" font-size="18.6" font-style="italic">x</text>
<text x="390.5" y="77.4" font-size="11.8">0</text>
<text x="401.7" y="76.9" font-size="18.4" textLength="12.6" lengthAdjust="spacingAndGlyphs">=</text>
<text x="419.4" y="75.2" font-size="17.4">10</text>
<line x1="330.7" y1="91.45" x2="376.7" y2="91.45" stroke="#EDB120" stroke-width="2.4"/>
<text x="381.2" y="96.0" font-size="18.6" font-style="italic">x</text>
<text x="390.5" y="98.2" font-size="11.8">0</text>
<text x="401.7" y="97.8" font-size="18.4" textLength="12.6" lengthAdjust="spacingAndGlyphs">=</text>
<text x="419.4" y="96.0" font-size="17.4">100</text>
</svg></body></html>
